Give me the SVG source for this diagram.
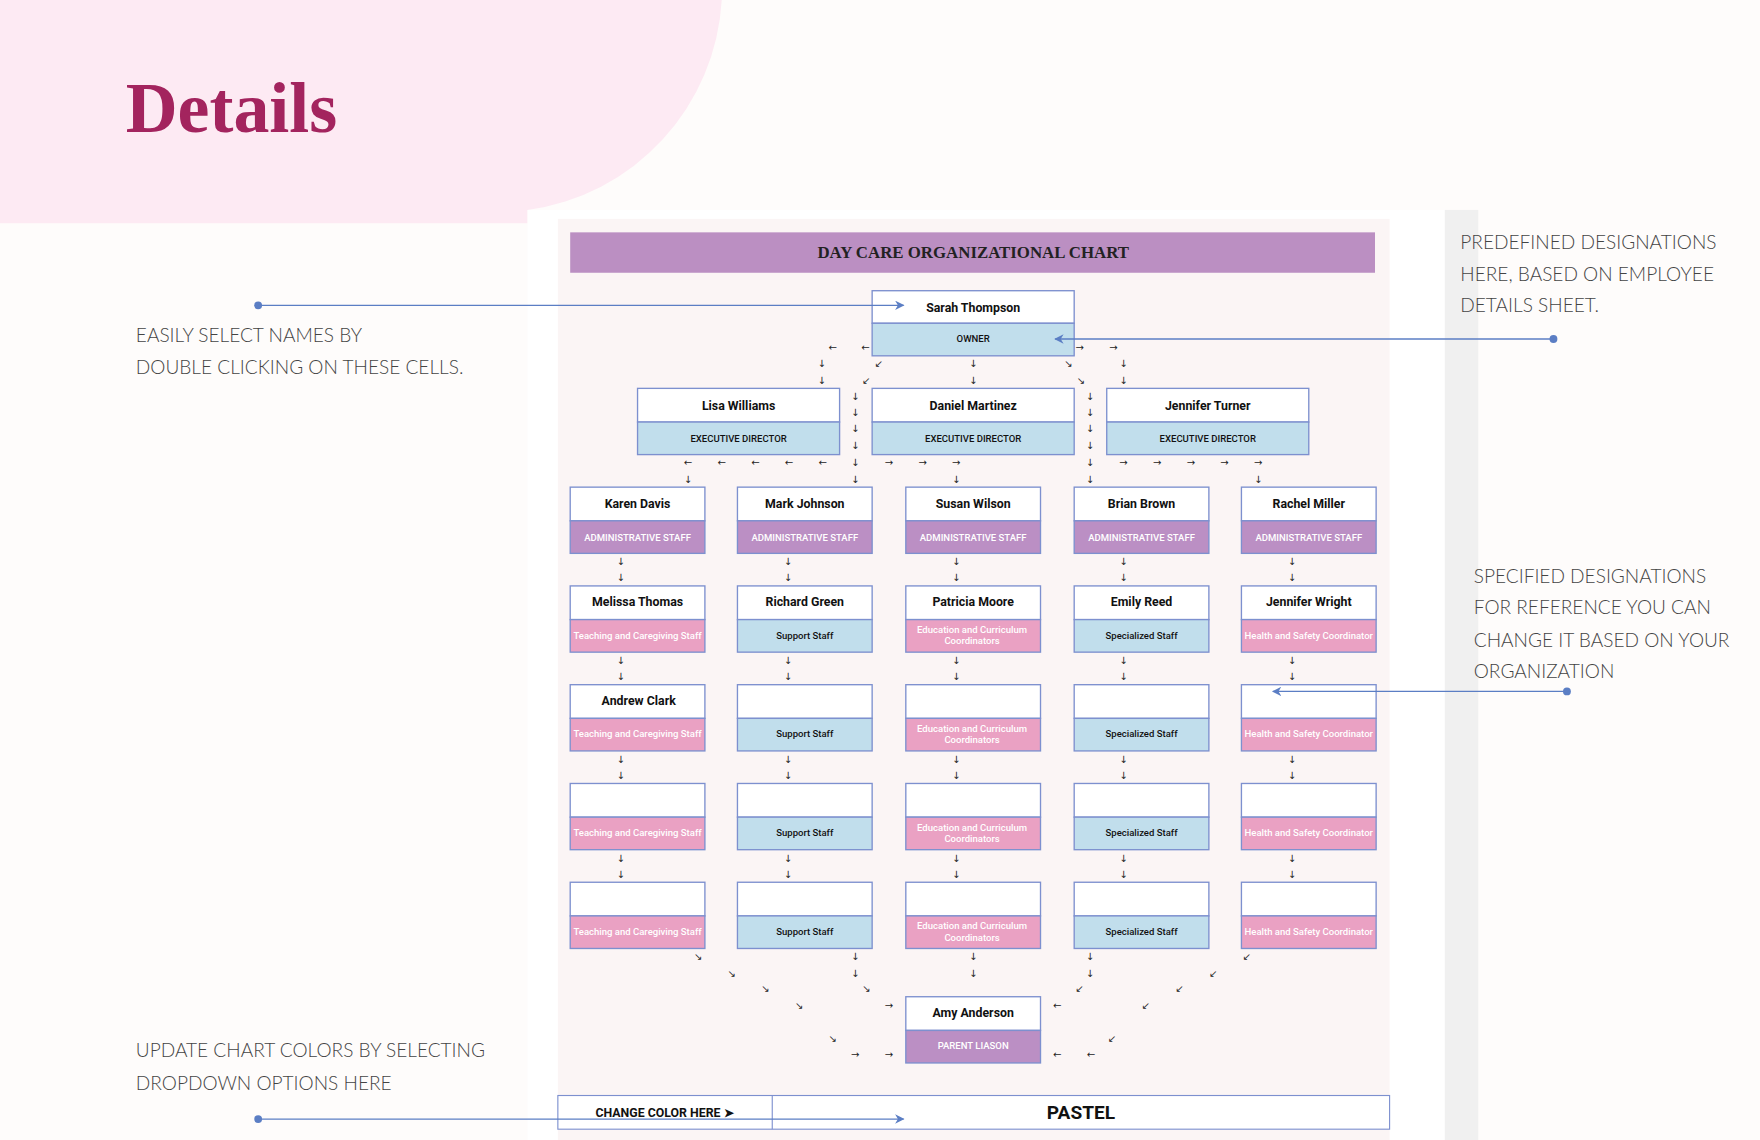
<svg xmlns="http://www.w3.org/2000/svg" width="1760" height="1140" viewBox="0 0 1760 1140">
<style>
.bx{stroke:#7d90cf;stroke-width:1.2}
.w{fill:#fff}.bl{fill:#c1deec}.pk{fill:#eaa1c3}.pu{fill:#bb8fc4}
.nm{font-family:Roboto,"Liberation Sans",sans-serif;font-weight:bold;font-size:11px;fill:#111;text-anchor:middle}
.rl{font-family:Roboto,"Liberation Sans",sans-serif;font-weight:500;font-size:8.5px;text-anchor:middle}
.rw{fill:#fff}.rk{fill:#111}
.ar{font-family:"DejaVu Sans",sans-serif;font-size:9px;fill:#222;text-anchor:middle}
.an{font-family:Lato,"Open Sans",sans-serif;font-weight:300;font-size:17px;fill:#444}
.ln{stroke:#5b7ec4;stroke-width:1.2;fill:none}
</style>
<defs><marker id="ah" viewBox="0 0 10 10" refX="9" refY="5" markerWidth="7" markerHeight="7" orient="auto-start-reverse"><path d="M0 0L10 5L0 10L3 5Z" fill="#5b7ec4"/></marker></defs>
<rect width="1760" height="1140" fill="#fefcfb"/>
<g transform="scale(1.12245)">
<path d="M0 0H643A200 200 0 0 1 470 187V199H0Z" fill="#fdeaf3"/>
<text x="112" y="118" font-family="'Liberation Serif',serif" font-weight="bold" font-size="64" fill="#a3245e">Details</text>
<rect x="1287" y="187" width="30" height="829" fill="#f0f0f0"/>
<rect x="470" y="187" width="817" height="829" fill="#fff"/>
<rect x="497" y="195" width="741" height="821" fill="#fbf5f5"/>
<rect x="508" y="207" width="717" height="36" fill="#bb8fc2"/>
<text x="867" y="230" text-anchor="middle" font-family="'Liberation Serif',serif" font-weight="bold" font-size="15" fill="#222">DAY CARE ORGANIZATIONAL CHART</text>

<g id="owner"><rect class="bx w" x="777" y="259" width="180" height="29"/><rect class="bx bl" x="777" y="288" width="180" height="29"/><text class="nm" x="867" y="278" font-size="13.5">Sarah Thompson</text><text class="rl rk" x="867" y="305">OWNER</text></g>
<g id="exec1"><rect class="bx w" x="568" y="346" width="180" height="30"/><rect class="bx bl" x="568" y="376" width="180" height="29"/><text class="nm" x="658" y="365">Lisa Williams</text><text class="rl rk" x="658" y="394">EXECUTIVE DIRECTOR</text></g>
<g id="exec2"><rect class="bx w" x="777" y="346" width="180" height="30"/><rect class="bx bl" x="777" y="376" width="180" height="29"/><text class="nm" x="867" y="365">Daniel Martinez</text><text class="rl rk" x="867" y="394">EXECUTIVE DIRECTOR</text></g>
<g id="exec3"><rect class="bx w" x="986" y="346" width="180" height="30"/><rect class="bx bl" x="986" y="376" width="180" height="29"/><text class="nm" x="1076" y="365">Jennifer Turner</text><text class="rl rk" x="1076" y="394">EXECUTIVE DIRECTOR</text></g>

<g id="admin">
<g id="a1"><rect class="bx w" x="508" y="434" width="120" height="30"/><rect class="bx pu" x="508" y="464" width="120" height="29"/><text class="nm" x="568" y="453">Karen Davis</text><text class="rl rw" x="568" y="482">ADMINISTRATIVE STAFF</text></g>
<g id="a2"><rect class="bx w" x="657" y="434" width="120" height="30"/><rect class="bx pu" x="657" y="464" width="120" height="29"/><text class="nm" x="717" y="453">Mark Johnson</text><text class="rl rw" x="717" y="482">ADMINISTRATIVE STAFF</text></g>
<g id="a3"><rect class="bx w" x="807" y="434" width="120" height="30"/><rect class="bx pu" x="807" y="464" width="120" height="29"/><text class="nm" x="867" y="453">Susan Wilson</text><text class="rl rw" x="867" y="482">ADMINISTRATIVE STAFF</text></g>
<g id="a4"><rect class="bx w" x="957" y="434" width="120" height="30"/><rect class="bx pu" x="957" y="464" width="120" height="29"/><text class="nm" x="1017" y="453">Brian Brown</text><text class="rl rw" x="1017" y="482">ADMINISTRATIVE STAFF</text></g>
<g id="a5"><rect class="bx w" x="1106" y="434" width="120" height="30"/><rect class="bx pu" x="1106" y="464" width="120" height="29"/><text class="nm" x="1166" y="453">Rachel Miller</text><text class="rl rw" x="1166" y="482">ADMINISTRATIVE STAFF</text></g>
</g>

<g id="staff">
<!-- row y=522 -->
<g id="r2c1"><rect class="bx w" x="508" y="522" width="120" height="30"/><rect class="bx pk" x="508" y="552" width="120" height="29"/><text class="nm" x="568" y="540" font-size="9.5">Melissa Thomas</text><text class="rl rw" x="568" y="569">Teaching and Caregiving Staff</text></g>
<g id="r2c2"><rect class="bx w" x="657" y="522" width="120" height="30"/><rect class="bx bl" x="657" y="552" width="120" height="29"/><text class="nm" x="717" y="540" font-size="9.5">Richard Green</text><text class="rl rk" x="717" y="569">Support Staff</text></g>
<g id="r2c3"><rect class="bx w" x="807" y="522" width="120" height="30"/><rect class="bx pk" x="807" y="552" width="120" height="29"/><text class="nm" x="867" y="540" font-size="9.5">Patricia Moore</text><text class="rl rw" x="866" y="564">Education and Curriculum</text><text class="rl rw" x="866" y="574">Coordinators</text></g>
<g id="r2c4"><rect class="bx w" x="957" y="522" width="120" height="30"/><rect class="bx bl" x="957" y="552" width="120" height="29"/><text class="nm" x="1017" y="540" font-size="9.5">Emily Reed</text><text class="rl rk" x="1017" y="569">Specialized Staff</text></g>
<g id="r2c5"><rect class="bx w" x="1106" y="522" width="120" height="30"/><rect class="bx pk" x="1106" y="552" width="120" height="29"/><text class="nm" x="1166" y="540" font-size="9.5">Jennifer Wright</text><text class="rl rw" x="1166" y="569">Health and Safety Coordinator</text></g>
<!-- row y=610 -->
<g id="r3c1"><rect class="bx w" x="508" y="610" width="120" height="30"/><rect class="bx pk" x="508" y="640" width="120" height="29"/><text class="nm" x="569" y="628" font-size="9.5">Andrew Clark</text><text class="rl rw" x="568" y="657">Teaching and Caregiving Staff</text></g>
<g id="r3c2"><rect class="bx w" x="657" y="610" width="120" height="30"/><rect class="bx bl" x="657" y="640" width="120" height="29"/><text class="rl rk" x="717" y="657">Support Staff</text></g>
<g id="r3c3"><rect class="bx w" x="807" y="610" width="120" height="30"/><rect class="bx pk" x="807" y="640" width="120" height="29"/><text class="rl rw" x="866" y="652">Education and Curriculum</text><text class="rl rw" x="866" y="662">Coordinators</text></g>
<g id="r3c4"><rect class="bx w" x="957" y="610" width="120" height="30"/><rect class="bx bl" x="957" y="640" width="120" height="29"/><text class="rl rk" x="1017" y="657">Specialized Staff</text></g>
<g id="r3c5"><rect class="bx w" x="1106" y="610" width="120" height="30"/><rect class="bx pk" x="1106" y="640" width="120" height="29"/><text class="rl rw" x="1166" y="657">Health and Safety Coordinator</text></g>
<!-- row y=698 -->
<g id="r4c1"><rect class="bx w" x="508" y="698" width="120" height="30"/><rect class="bx pk" x="508" y="728" width="120" height="29"/><text class="rl rw" x="568" y="745">Teaching and Caregiving Staff</text></g>
<g id="r4c2"><rect class="bx w" x="657" y="698" width="120" height="30"/><rect class="bx bl" x="657" y="728" width="120" height="29"/><text class="rl rk" x="717" y="745">Support Staff</text></g>
<g id="r4c3"><rect class="bx w" x="807" y="698" width="120" height="30"/><rect class="bx pk" x="807" y="728" width="120" height="29"/><text class="rl rw" x="866" y="740">Education and Curriculum</text><text class="rl rw" x="866" y="750">Coordinators</text></g>
<g id="r4c4"><rect class="bx w" x="957" y="698" width="120" height="30"/><rect class="bx bl" x="957" y="728" width="120" height="29"/><text class="rl rk" x="1017" y="745">Specialized Staff</text></g>
<g id="r4c5"><rect class="bx w" x="1106" y="698" width="120" height="30"/><rect class="bx pk" x="1106" y="728" width="120" height="29"/><text class="rl rw" x="1166" y="745">Health and Safety Coordinator</text></g>
<!-- row y=786 -->
<g id="r5c1"><rect class="bx w" x="508" y="786" width="120" height="30"/><rect class="bx pk" x="508" y="816" width="120" height="29"/><text class="rl rw" x="568" y="833">Teaching and Caregiving Staff</text></g>
<g id="r5c2"><rect class="bx w" x="657" y="786" width="120" height="30"/><rect class="bx bl" x="657" y="816" width="120" height="29"/><text class="rl rk" x="717" y="833">Support Staff</text></g>
<g id="r5c3"><rect class="bx w" x="807" y="786" width="120" height="30"/><rect class="bx pk" x="807" y="816" width="120" height="29"/><text class="rl rw" x="866" y="828">Education and Curriculum</text><text class="rl rw" x="866" y="838">Coordinators</text></g>
<g id="r5c4"><rect class="bx w" x="957" y="786" width="120" height="30"/><rect class="bx bl" x="957" y="816" width="120" height="29"/><text class="rl rk" x="1017" y="833">Specialized Staff</text></g>
<g id="r5c5"><rect class="bx w" x="1106" y="786" width="120" height="30"/><rect class="bx pk" x="1106" y="816" width="120" height="29"/><text class="rl rw" x="1166" y="833">Health and Safety Coordinator</text></g>
</g>

<g id="parent"><rect class="bx w" x="807" y="888" width="120" height="30"/><rect class="bx pu" x="807" y="918" width="120" height="29"/><text class="nm" x="867" y="906" font-size="9.5">Amy Anderson</text><text class="rl rw" x="867" y="935">PARENT LIASON</text></g>

<g id="connectors">
<text class="ar" x="742" y="313">←</text><text class="ar" x="771" y="313">←</text><text class="ar" x="962" y="313">→</text><text class="ar" x="992" y="313">→</text>
<text class="ar" x="732" y="327">↓</text><text class="ar" x="783" y="327">↙</text><text class="ar" x="867" y="327">↓</text><text class="ar" x="952" y="327">↘</text><text class="ar" x="1001" y="327">↓</text>
<text class="ar" x="732" y="342">↓</text><text class="ar" x="772" y="342">↙</text><text class="ar" x="867" y="342">↓</text><text class="ar" x="963" y="342">↘</text><text class="ar" x="1001" y="342">↓</text>
<text class="ar" x="762" y="356">↓</text><text class="ar" x="762" y="371">↓</text><text class="ar" x="762" y="385">↓</text><text class="ar" x="762" y="400">↓</text><text class="ar" x="762" y="415">↓</text><text class="ar" x="762" y="430">↓</text>
<text class="ar" x="971" y="356">↓</text><text class="ar" x="971" y="371">↓</text><text class="ar" x="971" y="385">↓</text><text class="ar" x="971" y="400">↓</text><text class="ar" x="971" y="415">↓</text><text class="ar" x="971" y="430">↓</text>
<text class="ar" x="613" y="415">←</text><text class="ar" x="643" y="415">←</text><text class="ar" x="673" y="415">←</text><text class="ar" x="703" y="415">←</text><text class="ar" x="733" y="415">←</text>
<text class="ar" x="792" y="415">→</text><text class="ar" x="822" y="415">→</text><text class="ar" x="852" y="415">→</text>
<text class="ar" x="1001" y="415">→</text><text class="ar" x="1031" y="415">→</text><text class="ar" x="1061" y="415">→</text><text class="ar" x="1091" y="415">→</text><text class="ar" x="1121" y="415">→</text>
<text class="ar" x="613" y="430">↓</text><text class="ar" x="852" y="430">↓</text><text class="ar" x="1121" y="430">↓</text>
<g id="cols">
<text class="ar" x="553" y="503">↓</text><text class="ar" x="702" y="503">↓</text><text class="ar" x="852" y="503">↓</text><text class="ar" x="1001" y="503">↓</text><text class="ar" x="1151" y="503">↓</text>
<text class="ar" x="553" y="518">↓</text><text class="ar" x="702" y="518">↓</text><text class="ar" x="852" y="518">↓</text><text class="ar" x="1001" y="518">↓</text><text class="ar" x="1151" y="518">↓</text>
<text class="ar" x="553" y="592">↓</text><text class="ar" x="702" y="592">↓</text><text class="ar" x="852" y="592">↓</text><text class="ar" x="1001" y="592">↓</text><text class="ar" x="1151" y="592">↓</text>
<text class="ar" x="553" y="606">↓</text><text class="ar" x="702" y="606">↓</text><text class="ar" x="852" y="606">↓</text><text class="ar" x="1001" y="606">↓</text><text class="ar" x="1151" y="606">↓</text>
<text class="ar" x="553" y="680">↓</text><text class="ar" x="702" y="680">↓</text><text class="ar" x="852" y="680">↓</text><text class="ar" x="1001" y="680">↓</text><text class="ar" x="1151" y="680">↓</text>
<text class="ar" x="553" y="694">↓</text><text class="ar" x="702" y="694">↓</text><text class="ar" x="852" y="694">↓</text><text class="ar" x="1001" y="694">↓</text><text class="ar" x="1151" y="694">↓</text>
<text class="ar" x="553" y="768">↓</text><text class="ar" x="702" y="768">↓</text><text class="ar" x="852" y="768">↓</text><text class="ar" x="1001" y="768">↓</text><text class="ar" x="1151" y="768">↓</text>
<text class="ar" x="553" y="782">↓</text><text class="ar" x="702" y="782">↓</text><text class="ar" x="852" y="782">↓</text><text class="ar" x="1001" y="782">↓</text><text class="ar" x="1151" y="782">↓</text>
</g>
<text class="ar" x="622" y="855">↘</text><text class="ar" x="652" y="870">↘</text><text class="ar" x="682" y="884">↘</text><text class="ar" x="712" y="899">↘</text><text class="ar" x="742" y="928">↘</text>
<text class="ar" x="762" y="943">→</text><text class="ar" x="792" y="943">→</text><text class="ar" x="792" y="899">→</text>
<text class="ar" x="762" y="855">↓</text><text class="ar" x="762" y="870">↓</text><text class="ar" x="772" y="884">↘</text>
<text class="ar" x="867" y="855">↓</text><text class="ar" x="867" y="870">↓</text>
<text class="ar" x="971" y="855">↓</text><text class="ar" x="971" y="870">↓</text><text class="ar" x="962" y="884">↙</text><text class="ar" x="942" y="899">←</text>
<text class="ar" x="1111" y="855">↙</text><text class="ar" x="1081" y="870">↙</text><text class="ar" x="1051" y="884">↙</text><text class="ar" x="1021" y="899">↙</text><text class="ar" x="991" y="928">↙</text>
<text class="ar" x="972" y="943">←</text><text class="ar" x="942" y="943">←</text>
</g>

<g id="colorbar"><rect x="497" y="976" width="741" height="30" fill="#fff" stroke="#7d90cf" stroke-width="1"/><line x1="688" y1="976" x2="688" y2="1006" stroke="#7d90cf"/>
<text x="592" y="995" text-anchor="middle" font-family="Roboto,'Liberation Sans',sans-serif" font-weight="bold" font-size="11" fill="#111">CHANGE COLOR HERE ➤</text>
<text x="963" y="997" text-anchor="middle" font-family="Roboto,'Liberation Sans',sans-serif" font-weight="bold" font-size="17" fill="#111">PASTEL</text></g>

<g id="annotations">
<text class="an" x="121" y="305">EASILY SELECT NAMES BY</text><text class="an" x="121" y="333">DOUBLE CLICKING ON THESE CELLS.</text>
<circle cx="230" cy="272" r="3.5" fill="#5b7ec4"/><line class="ln" x1="230" y1="272" x2="805" y2="272" marker-end="url(#ah)"/>
<text class="an" x="1301" y="222">PREDEFINED DESIGNATIONS</text><text class="an" x="1301" y="250">HERE, BASED ON EMPLOYEE</text><text class="an" x="1301" y="278">DETAILS SHEET.</text>
<circle cx="1384" cy="302" r="3.5" fill="#5b7ec4"/><line class="ln" x1="1384" y1="302" x2="940" y2="302" marker-end="url(#ah)"/>
<text class="an" x="1313" y="519">SPECIFIED DESIGNATIONS</text><text class="an" x="1313" y="547">FOR REFERENCE YOU CAN</text><text class="an" x="1313" y="576">CHANGE IT BASED ON YOUR</text><text class="an" x="1313" y="604">ORGANIZATION</text>
<circle cx="1396" cy="616" r="3.5" fill="#5b7ec4"/><line class="ln" x1="1396" y1="616" x2="1134" y2="616" marker-end="url(#ah)"/>
<text class="an" x="121" y="942">UPDATE CHART COLORS BY SELECTING</text><text class="an" x="121" y="971">DROPDOWN OPTIONS HERE</text>
<circle cx="230" cy="997" r="3.5" fill="#5b7ec4"/><line class="ln" x1="230" y1="997" x2="805" y2="997" marker-end="url(#ah)"/>
</g>
</g>
</svg>
